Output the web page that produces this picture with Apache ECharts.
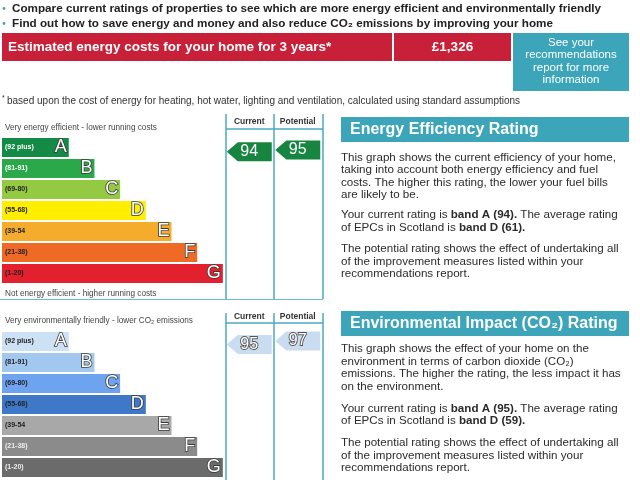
<!DOCTYPE html>
<html><head><meta charset="utf-8">
<script src="https://cdn.jsdelivr.net/npm/echarts@6/dist/echarts.min.js"></script>
<style>html,body{margin:0;padding:0;background:#fff}#c{width:640px;height:480px}</style>
</head><body><div id="c"></div>
<script>
// ---- data ----
const bandLetters = ['A', 'B', 'C', 'D', 'E', 'F', 'G'];
const bandRanges = ['(92 plus)', '(81-91)', '(69-80)', '(55-68)', '(39-54', '(21-38)', '(1-20)'];
const bandLengths = [2.6, 3.6, 4.6, 5.6, 6.6, 7.6, 8.6];
const energyBandColors = ['#138a45', '#2aa84a', '#94c942', '#ffee00', '#f5ac2c', '#ee6a25', '#e3202e'];
const envBandColors = ['#cde1f5', '#a3c8f0', '#6ea3f0', '#3f78c6', '#a8a8a8', '#8b8b8b', '#6b6b6b'];
const energyRangeColors = ['#fff', '#fff', '#222', '#222', '#222', '#222', '#222'];
const envRangeColors = ['#222', '#222', '#222', '#222', '#222', '#eee', '#eee'];
const columnNames = ['Current', 'Potential'];
const energyRatings = [94, 95];
const envRatings = [95, 97];
const energyCost = '£1,326';

const FONT = '"Liberation Sans", Arial, Helvetica, sans-serif';
const TEAL = '#3ca5ba';
const LINE = '#4aa9bf';
const RED = '#c9203a';
const TXT = '#2b2b2b';

function T(x, y, text, o) {
  o = o || {};
  return { type: 'text', x: x, y: y, silent: true, z: 20,
    style: { text: text, fill: o.fill || TXT, fontSize: o.size || 11.6, fontWeight: o.weight || 'normal',
      fontFamily: FONT, textAlign: o.align || 'left', verticalAlign: o.va || 'middle',
      textVerticalAlign: o.va || 'middle', rich: o.rich } };
}
function R(x, y, w, h, fill) {
  return { type: 'rect', silent: true, z: 5, shape: { x: x, y: y, width: w, height: h }, style: { fill: fill } };
}
function L(x1, y1, x2, y2, c, w) {
  return { type: 'line', silent: true, z: 6, shape: { x1: x1, y1: y1, x2: x2, y2: y2 }, style: { stroke: c || LINE, lineWidth: w || 1.5 } };
}
const richP = {
  n: { fill: TXT, fontSize: 11.6, fontFamily: FONT },
  b: { fill: TXT, fontSize: 11.6, fontFamily: FONT, fontWeight: 'bold' }
};

const graphics = [
  { type: 'circle', silent: true, shape: { cx: 4, cy: 8.5, r: 1.4 }, style: { fill: TEAL } },
  { type: 'circle', silent: true, shape: { cx: 4, cy: 23.5, r: 1.4 }, style: { fill: TEAL } },
  T(12, 8.5, 'Compare current ratings of properties to see which are more energy efficient and environmentally friendly', { size: 11.7, weight: 'bold', fill: '#222' }),
  T(12, 23.5, 'Find out how to save energy and money and also reduce CO\u2082 emissions by improving your home', { size: 11.7, weight: 'bold', fill: '#222' }),
  R(2, 33, 390, 28, RED),
  R(394, 33, 117, 28, RED),
  R(513, 33, 116, 58, TEAL),
  T(8, 47, 'Estimated energy costs for your home for 3 years*', { size: 13.5, weight: 'bold', fill: '#fff' }),
  T(452.5, 47, energyCost, { size: 13.5, weight: 'bold', fill: '#fff', align: 'center' }),
  T(571, 43, 'See your', { size: 11.5, fill: '#fff', align: 'center' }),
  T(571, 55.3, 'recommendations', { size: 11.5, fill: '#fff', align: 'center' }),
  T(571, 67.6, 'report for more', { size: 11.5, fill: '#fff', align: 'center' }),
  T(571, 79.9, 'information', { size: 11.5, fill: '#fff', align: 'center' }),
  T(2, 98, '*', { size: 7, fill: '#333' }),
  T(7, 101, 'based upon the cost of energy for heating, hot water, lighting and ventilation, calculated using standard assumptions', { size: 10, fill: '#333' }),

  // energy chart frame
  T(5, 127.5, 'Very energy efficient - lower running costs', { size: 8.2, fill: '#444' }),
  T(5, 293.5, 'Not energy efficient - higher running costs', { size: 8.2, fill: '#444' }),
  L(226, 114, 226, 299), L(274, 114, 274, 299), L(323, 114, 323, 299),
  L(226, 129, 323, 129),
  L(0, 299.5, 323, 299.5, '#6cbccd', 1.2),

  // env chart frame
  T(5, 321, 'Very environmentally friendly - lower CO\u2082 emissions', { size: 8.2, fill: '#444' }),
  L(226, 313, 226, 480), L(274, 313, 274, 480), L(323, 313, 323, 480),
  L(226, 323, 323, 323),

  // right texts - energy
  R(341, 117, 288, 25, TEAL),
  T(350, 129.5, 'Energy Efficiency Rating', { size: 16, weight: 'bold', fill: '#fff' }),
  T(341, 157.5, 'This graph shows the current efficiency of your home,'),
  T(341, 170, 'taking into account both energy efficiency and fuel'),
  T(341, 182.5, 'costs. The higher this rating, the lower your fuel bills'),
  T(341, 195, 'are likely to be.'),
  T(341, 215, '{n|Your current rating is }{b|band A (94).}{n| The average rating}', { rich: richP }),
  T(341, 227.5, '{n|of EPCs in Scotland is }{b|band D (61).}', { rich: richP }),
  T(341, 249, 'The potential rating shows the effect of undertaking all'),
  T(341, 261.5, 'of the improvement measures listed within your'),
  T(341, 274, 'recommendations report.'),

  // right texts - environment
  R(341, 311, 288, 25, TEAL),
  T(350, 323.5, 'Environmental Impact (CO\u2082) Rating', { size: 16, weight: 'bold', fill: '#fff' }),
  T(341, 349, 'This graph shows the effect of your home on the'),
  T(341, 361.5, 'environment in terms of carbon dioxide (CO\u2082)'),
  T(341, 374, 'emissions. The higher the rating, the less impact it has'),
  T(341, 386.5, 'on the environment.'),
  T(341, 408.5, '{n|Your current rating is }{b|band A (95).}{n| The average rating}', { rich: richP }),
  T(341, 421, '{n|of EPCs in Scotland is }{b|band D (59).}', { rich: richP }),
  T(341, 443, 'The potential rating shows the effect of undertaking all'),
  T(341, 455.5, 'of the improvement measures listed within your'),
  T(341, 468, 'recommendations report.')
];

const ARROW = 'path://M0,9.5L11,0L45,0L45,19L11,19Z';

function bandSeries(axisIdx, colors, rangeColors) {
  return [
    { type: 'bar', xAxisIndex: axisIdx, yAxisIndex: axisIdx, barWidth: 19, barGap: '-100%', silent: true,
      data: bandLengths.map((v, i) => ({ value: v, itemStyle: { color: colors[i] } })),
      label: { show: true, position: 'insideRight', distance: 2, formatter: p => bandLetters[p.dataIndex],
        fontSize: 18, fontFamily: FONT, color: '#fff', textBorderColor: '#3a3a3a', textBorderWidth: 1.6 } },
    { type: 'bar', xAxisIndex: axisIdx, yAxisIndex: axisIdx, barWidth: 19, barGap: '-100%', silent: true,
      data: bandLengths.map((v, i) => ({ value: v, itemStyle: { color: 'rgba(0,0,0,0)' },
        label: { color: rangeColors[i] } })),
      label: { show: true, position: 'insideLeft', distance: 3, formatter: p => bandRanges[p.dataIndex],
        fontSize: 7, fontWeight: 'bold', fontFamily: FONT } }
  ];
}

const colAxis = (grid, margin) => ({
  gridIndex: grid, type: 'category', data: columnNames, position: 'top',
  axisLine: { show: false }, axisTick: { show: false }, splitLine: { show: false },
  axisLabel: { margin: margin, interval: 0, fontSize: 8.5, fontWeight: 'bold', color: '#333', fontFamily: FONT }
});

const option = {
  animation: false,
  backgroundColor: '#fff',
  grid: [
    { left: 2, top: 137, width: 321, height: 147 },
    { left: 2, top: 331, width: 321, height: 147 },
    { left: 225, top: 141, width: 97, height: 36 },
    { left: 225, top: 335.5, width: 97, height: 36 }
  ],
  xAxis: [
    { gridIndex: 0, type: 'value', min: 0, max: 12.5, show: false },
    { gridIndex: 1, type: 'value', min: 0, max: 12.5, show: false },
    colAxis(2, 15),
    colAxis(3, 14)
  ],
  yAxis: [
    { gridIndex: 0, type: 'category', data: bandLetters, inverse: true, show: false },
    { gridIndex: 1, type: 'category', data: bandLetters, inverse: true, show: false },
    { gridIndex: 2, type: 'value', min: 80, max: 100, show: false },
    { gridIndex: 3, type: 'value', min: 80, max: 100, show: false }
  ],
  series: [].concat(
    bandSeries(0, energyBandColors, energyRangeColors),
    bandSeries(1, envBandColors, envRangeColors),
    [
      { type: 'scatter', xAxisIndex: 2, yAxisIndex: 2, symbol: ARROW, symbolSize: [45, 19], silent: true,
        itemStyle: { color: '#17843f', opacity: 1 },
        data: columnNames.map((c, i) => [c, energyRatings[i]]),
        label: { show: true, position: 'inside', formatter: p => p.value[1], color: '#fff', fontSize: 16, fontFamily: FONT } },
      { type: 'scatter', xAxisIndex: 3, yAxisIndex: 3, symbol: ARROW, symbolSize: [45, 19], silent: true,
        itemStyle: { color: '#cadcf0', opacity: 1 },
        data: columnNames.map((c, i) => [c, envRatings[i]]),
        label: { show: true, position: 'inside', formatter: p => p.value[1], color: '#fff', fontSize: 16, fontFamily: FONT,
          textBorderColor: '#555', textBorderWidth: 1.8 } }
    ]
  ),
  graphic: { elements: graphics }
};

const chart = echarts.init(document.getElementById('c'), null, { renderer: 'canvas' });
chart.setOption(option);
</script>
</body></html>
